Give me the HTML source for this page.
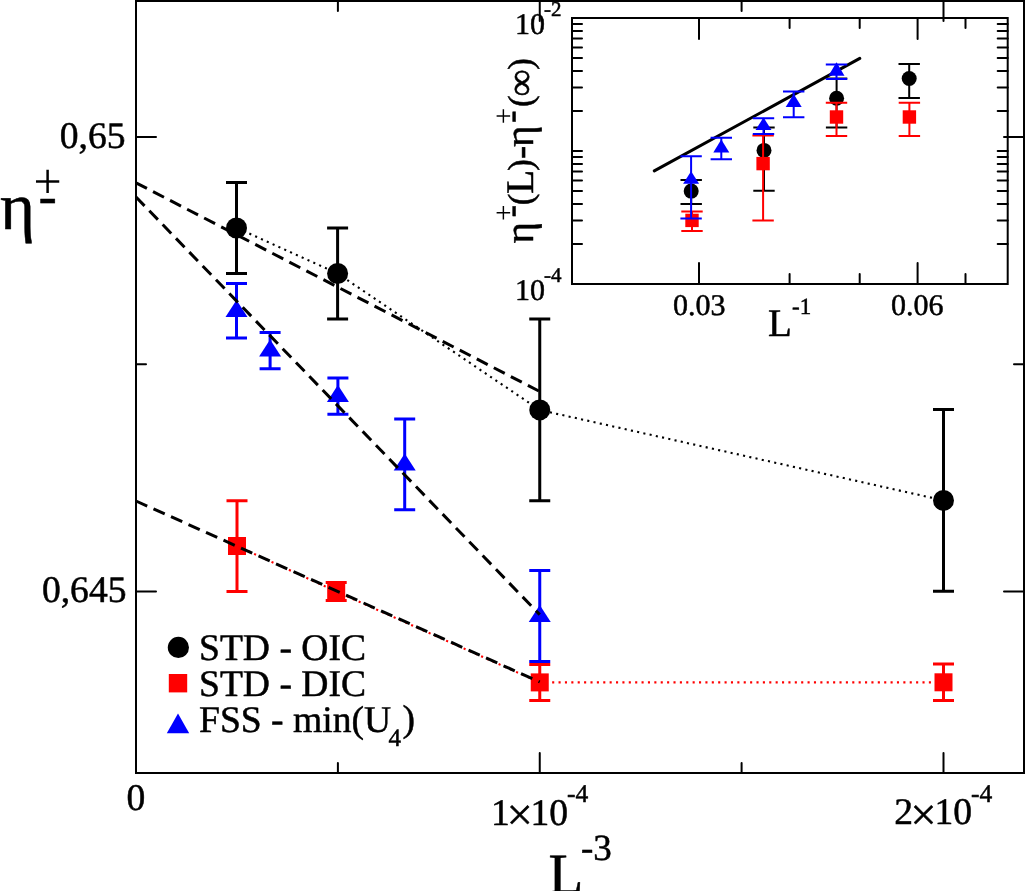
<!DOCTYPE html>
<html><head><meta charset="utf-8">
<style>
html,body{margin:0;padding:0;background:#fff;width:1025px;height:891px;overflow:hidden}
svg{display:block;will-change:transform}
text{font-family:"Liberation Serif",serif;fill:#000;stroke:#000;stroke-width:0.5px;stroke-linejoin:round;text-rendering:geometricPrecision}
</style></head>
<body>
<svg width="1025" height="891" viewBox="0 0 1025 891">
<rect x="0" y="0" width="1025" height="891" fill="#fff"/>

<!-- ============ MAIN PLOT ============ -->
<g id="main-frame" stroke="#000" stroke-width="2" fill="none">
  <rect x="136" y="1" width="888" height="772"/>
</g>
<g id="main-ticks" stroke="#000" stroke-width="2" stroke-linecap="round">
  <!-- bottom -->
  <line x1="539.75" y1="773" x2="539.75" y2="753"/>
  <line x1="943.5" y1="773" x2="943.5" y2="753"/>
  <line x1="337.9" y1="773" x2="337.9" y2="763"/>
  <line x1="741.6" y1="773" x2="741.6" y2="763"/>
  <!-- top -->
  <line x1="539.75" y1="1" x2="539.75" y2="21"/>
  <line x1="943.5" y1="1" x2="943.5" y2="21"/>
  <line x1="337.9" y1="1" x2="337.9" y2="11"/>
  <line x1="741.6" y1="1" x2="741.6" y2="11"/>
  <!-- left -->
  <line x1="136" y1="137" x2="156" y2="137"/>
  <line x1="136" y1="591.4" x2="156" y2="591.4"/>
  <line x1="136" y1="364.2" x2="146" y2="364.2"/>
  <!-- right -->
  <line x1="1024" y1="137" x2="1004" y2="137"/>
  <line x1="1024" y1="591.4" x2="1004" y2="591.4"/>
  <line x1="1024" y1="364.2" x2="1014" y2="364.2"/>
</g>

<!-- connecting dotted lines -->
<polyline points="237,228 337.6,273.5 539.75,410 943.5,500.4" fill="none" stroke="#000" stroke-width="2.1" stroke-dasharray="2.1 4.285" stroke-dashoffset="-0.77"/>
<polyline points="237,546 336.2,591.5 539.75,682.4 943.5,682.4" fill="none" stroke="#f00" stroke-width="2.1" stroke-dasharray="2.1 4.285" stroke-dashoffset="0.33"/>

<!-- black circles -->
<g stroke="#000" stroke-width="3" fill="#000">
  <path d="M236.5 182.5V273.5M226 182.5H247M226 273.5H247" />
  <circle cx="236.5" cy="228" r="10.5" stroke="none"/>
  <path d="M337.6 228V319M327.1 228H348.1M327.1 319H348.1" />
  <circle cx="337.6" cy="273.5" r="10.5" stroke="none"/>
  <path d="M539.75 319V500.8M529.25 319H550.25M529.25 500.8H550.25" />
  <circle cx="539.75" cy="409.9" r="10.5" stroke="none"/>
  <path d="M943.5 409.6V591.3M933 409.6H954M933 591.3H954" />
  <circle cx="943.5" cy="500.4" r="10.5" stroke="none"/>
</g>

<!-- red squares -->
<g stroke="#f00" stroke-width="3" fill="#f00">
  <path d="M237 500.7V591.6M226.5 500.7H247.5M226.5 591.6H247.5" />
  <rect x="228" y="537" width="18" height="18" stroke="none"/>
  <path d="M336.2 582.4V600.6M325.7 582.4H346.7M325.7 600.6H346.7" />
  <rect x="327.2" y="582.5" width="18" height="18" stroke="none"/>
  <path d="M539.75 664.5V700.5M529.25 664.5H550.25M529.25 700.5H550.25" />
  <rect x="530.75" y="673.4" width="18" height="18" stroke="none"/>
  <path d="M943.5 664V700.4M933 664H954M933 700.4H954" />
  <rect x="934.5" y="673.3" width="18" height="18" stroke="none"/>
</g>

<!-- blue triangles -->
<g stroke="#00f" stroke-width="3" fill="#00f">
  <path d="M236.5 283.6V338M226 283.6H247M226 338H247" />
  <polygon points="236.5,300 225.5,317 247.5,317" stroke="none"/>
  <path d="M270.1 332.5V368.8M259.6 332.5H280.6M259.6 368.8H280.6" />
  <polygon points="270.1,339.6 259.1,356.6 281.1,356.6" stroke="none"/>
  <path d="M337.9 378V414.2M327.4 378H348.4M327.4 414.2H348.4" />
  <polygon points="337.9,385.1 326.9,402.1 348.9,402.1" stroke="none"/>
  <path d="M404.7 419V509.7M394.2 419H415.2M394.2 509.7H415.2" />
  <polygon points="404.7,453.4 393.7,470.4 415.7,470.4" stroke="none"/>
  <path d="M539.75 570.5V661.5M529.25 570.5H550.25M529.25 661.5H550.25" />
  <polygon points="539.75,605 528.75,622 550.75,622" stroke="none"/>
</g>

<!-- dashed fit lines -->
<g fill="none" stroke="#000" stroke-width="3" stroke-dasharray="12.3 6.88">
  <line x1="136" y1="182.8" x2="539.75" y2="391.5"/>
  <line x1="136" y1="197" x2="539.75" y2="614.6"/>
  <line x1="136" y1="501" x2="539.75" y2="682"/>
</g>

<!-- legend -->
<circle cx="178.4" cy="647.4" r="10.6" fill="#000"/>
<rect x="168.8" y="674" width="18.4" height="18.4" fill="#f00"/>
<polygon points="178,713.5 166.8,733.3 189.2,733.3" fill="#00f"/>
<g font-size="37.6">
  <text id="t_leg1" x="199" y="659.8">STD - OIC</text>
  <text id="t_leg2" x="199" y="695.8">STD - DIC</text>
  <text id="t_leg3" x="199" y="731.8">FSS - min(U</text>
  <text id="t_leg3b" x="402.5" y="731.3">)</text>
</g>
<text id="t_leg3s" x="388.5" y="746" font-size="25">4</text>

<!-- main tick labels -->
<g font-size="37.6">
  <text id="t_y65" x="125.6" y="147.6" text-anchor="end">0,65</text>
  <text id="t_y645" x="126.5" y="602" text-anchor="end">0,645</text>
  <text id="t_x0" x="136" y="809.7" text-anchor="middle">0</text>
  <text id="t_x1" x="491" y="824.6">1</text>
  <text id="t_x1b" x="530.4" y="824.6">10</text>
  <text id="t_x1m" x="506.8" y="829.8" font-size="46">×</text>
  <text id="t_x2" x="894.2" y="824.2">2</text>
  <text id="t_x2b" x="934.5" y="824.2">10</text>
  <text id="t_x2m" x="910.4" y="829.5" font-size="46">×</text>
</g>
<text id="t_x1s" x="567" y="802" font-size="25.5">-4</text>
<text id="t_x2s" x="971" y="801.7" font-size="25.5">-4</text>
<!-- axis titles -->
<text id="t_eta" x="0" y="229" font-size="67">η</text>
<text id="t_plus" x="33.6" y="198.1" font-size="50" style="stroke:none">+</text>
<text id="t_minus" x="38.4" y="213.5" font-size="55">-</text>
<text id="t_L" x="548.6" y="893" font-size="57" stroke="#000" stroke-width="0.6">L</text>
<text id="t_Ls" x="581" y="859.5" font-size="37">-3</text>

<!-- ============ INSET ============ -->
<g stroke="#000" stroke-width="2" fill="none">
  <rect x="572" y="18" width="435.7" height="266"/>
</g>
<g stroke="#000" stroke-width="2" stroke-linecap="round" id="inset-ticks">
<line x1="572" y1="244.0" x2="582" y2="244.0"/>
<line x1="1007.7" y1="244.0" x2="997.7" y2="244.0"/>
<line x1="572" y1="220.5" x2="582" y2="220.5"/>
<line x1="1007.7" y1="220.5" x2="997.7" y2="220.5"/>
<line x1="572" y1="203.9" x2="582" y2="203.9"/>
<line x1="1007.7" y1="203.9" x2="997.7" y2="203.9"/>
<line x1="572" y1="191.0" x2="582" y2="191.0"/>
<line x1="1007.7" y1="191.0" x2="997.7" y2="191.0"/>
<line x1="572" y1="180.5" x2="582" y2="180.5"/>
<line x1="1007.7" y1="180.5" x2="997.7" y2="180.5"/>
<line x1="572" y1="171.6" x2="582" y2="171.6"/>
<line x1="1007.7" y1="171.6" x2="997.7" y2="171.6"/>
<line x1="572" y1="163.9" x2="582" y2="163.9"/>
<line x1="1007.7" y1="163.9" x2="997.7" y2="163.9"/>
<line x1="572" y1="157.1" x2="582" y2="157.1"/>
<line x1="1007.7" y1="157.1" x2="997.7" y2="157.1"/>
<line x1="572" y1="151.0" x2="582" y2="151.0"/>
<line x1="1007.7" y1="151.0" x2="997.7" y2="151.0"/>
<line x1="572" y1="111.0" x2="582" y2="111.0"/>
<line x1="1007.7" y1="111.0" x2="997.7" y2="111.0"/>
<line x1="572" y1="87.5" x2="582" y2="87.5"/>
<line x1="1007.7" y1="87.5" x2="997.7" y2="87.5"/>
<line x1="572" y1="70.9" x2="582" y2="70.9"/>
<line x1="1007.7" y1="70.9" x2="997.7" y2="70.9"/>
<line x1="572" y1="58.0" x2="582" y2="58.0"/>
<line x1="1007.7" y1="58.0" x2="997.7" y2="58.0"/>
<line x1="572" y1="47.5" x2="582" y2="47.5"/>
<line x1="1007.7" y1="47.5" x2="997.7" y2="47.5"/>
<line x1="572" y1="38.6" x2="582" y2="38.6"/>
<line x1="1007.7" y1="38.6" x2="997.7" y2="38.6"/>
<line x1="572" y1="30.9" x2="582" y2="30.9"/>
<line x1="1007.7" y1="30.9" x2="997.7" y2="30.9"/>
<line x1="572" y1="24.1" x2="582" y2="24.1"/>
<line x1="1007.7" y1="24.1" x2="997.7" y2="24.1"/>
<line x1="699.0" y1="284" x2="699.0" y2="263.0"/>
<line x1="699.0" y1="18" x2="699.0" y2="39.0"/>
<line x1="789.6" y1="284" x2="789.6" y2="274.0"/>
<line x1="789.6" y1="18" x2="789.6" y2="28.0"/>
<line x1="859.7" y1="284" x2="859.7" y2="274.0"/>
<line x1="859.7" y1="18" x2="859.7" y2="28.0"/>
<line x1="917.6" y1="284" x2="917.6" y2="263.0"/>
<line x1="917.6" y1="18" x2="917.6" y2="39.0"/>
<line x1="965.5" y1="284" x2="965.5" y2="274.0"/>
<line x1="965.5" y1="18" x2="965.5" y2="28.0"/>
</g>

<!-- inset fit line -->
<line x1="654.3" y1="170.9" x2="859.8" y2="58.4" stroke="#000" stroke-width="3" stroke-linecap="round"/>

<!-- inset black -->
<g stroke="#000" stroke-width="2" fill="#000">
  <path d="M691.2 180.1V204M680.5 180.1H701.9M680.5 204H701.9"/>
  <circle cx="691.2" cy="191.1" r="7.5" stroke="none"/>
  <path d="M764 127.5V190.8M753.3 127.5H774.7M753.3 190.8H774.7"/>
  <circle cx="764" cy="150.4" r="7.5" stroke="none"/>
  <path d="M836.6 78.5V127.4M825.9 78.5H847.3M825.9 127.4H847.3"/>
  <circle cx="836.6" cy="98.3" r="7.5" stroke="none"/>
  <path d="M909.2 64V98M898.5 64H919.9M898.5 98H919.9"/>
  <circle cx="909.2" cy="78.5" r="7.5" stroke="none"/>
</g>
<!-- inset red -->
<g stroke="#f00" stroke-width="2" fill="#f00">
  <path d="M692 211.5V230.9M681.3 211.5H702.7M681.3 230.9H702.7"/>
  <rect x="685.3" y="213.7" width="13.4" height="13.4" stroke="none"/>
  <path d="M763.1 135.6V220.4M752.4 135.6H773.8M752.4 220.4H773.8"/>
  <rect x="756.4" y="156.9" width="13.4" height="13.4" stroke="none"/>
  <path d="M836.5 102.7V135.9M825.8 102.7H847.2M825.8 135.9H847.2"/>
  <rect x="829.8" y="110.3" width="13.4" height="13.4" stroke="none"/>
  <path d="M909.4 102.7V135.9M898.7 102.7H920.1M898.7 135.9H920.1"/>
  <rect x="902.7" y="110.3" width="13.4" height="13.4" stroke="none"/>
</g>
<!-- inset blue -->
<g stroke="#00f" stroke-width="2" fill="#00f">
  <path d="M691.1 156.3V218.6M680.4 156.3H701.8M680.4 218.6H701.8"/>
  <polygon points="691.1,171.3 683.1,183.8 699.1,183.8" stroke="none"/>
  <path d="M721.3 137.8V159.3M710.6 137.8H732M710.6 159.3H732"/>
  <polygon points="721.3,139.6 713.3,152.6 729.3,152.6" stroke="none"/>
  <path d="M763.5 118.3V134M752.8 118.3H774.2M752.8 134H774.2"/>
  <polygon points="763.5,117.4 755.5,129.9 771.5,129.9" stroke="none"/>
  <path d="M793.7 91.4V117.2M783 91.4H804.4M783 117.2H804.4"/>
  <polygon points="793.7,94 785.7,107.1 801.7,107.1" stroke="none"/>
  <path d="M836.5 64.4V79M825.8 64.4H847.2M825.8 79H847.2"/>
  <polygon points="836.5,62.3 828.5,75.8 844.5,75.8" stroke="none"/>
</g>

<!-- inset labels -->
<g font-size="30">
  <text id="t_i10a" x="515" y="34.2">10</text>
  <text id="t_i10b" x="515" y="299.8">10</text>
  <text id="t_i003" x="673" y="315">0.03</text>
  <text id="t_i006" x="891" y="315.2">0.06</text>
</g>
<text id="t_i10as" x="544" y="16" font-size="21">-2</text>
<text id="t_i10bs" x="544" y="281.9" font-size="21">-4</text>
<text id="t_iL" x="768" y="335.7" font-size="39">L</text>
<text id="t_iLs" x="792" y="313.8" font-size="23">-1</text>

<g id="t_rot" transform="translate(533,243) rotate(-90)">
  <text x="-0.6" y="0" font-size="41">η</text>
  <text x="22.1" y="-19.7" font-size="29" style="stroke:none">+</text>
  <text x="25.5" y="-9.8" font-size="37.6">-</text>
  <text x="37.7" y="-1" font-size="35">(</text>
  <text x="49.3" y="0" font-size="39">L</text>
  <text x="72.3" y="-1" font-size="35">)</text>
  <text x="84.1" y="0" font-size="40">-</text>
  <text x="96" y="0" font-size="41">η</text>
  <text x="118.7" y="-19.7" font-size="29" style="stroke:none">+</text>
  <text x="119.9" y="-9.8" font-size="37.6">-</text>
  <text x="135.9" y="-1" font-size="35">(</text>
  <text x="146.5" y="0" font-size="38">∞</text>
  <text x="173.3" y="-1" font-size="35">)</text>
</g>
</svg>
</body></html>
